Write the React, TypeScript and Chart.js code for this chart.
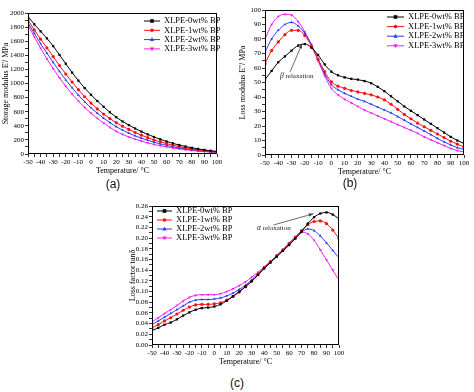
import React, { useEffect, useRef } from 'react';
import { Chart, registerables } from 'chart.js';

Chart.register(...registerables);

// ---------- data ----------
const temps = [-50, -45, -40, -35, -30, -25, -20, -15, -10, -5, 0, 5, 10, 15, 20, 25, 30, 35, 40, 45, 50, 55, 60, 65, 70, 75, 80, 85, 90, 95, 100];

const seriesLabels = ['XLPE-0wt% BP', 'XLPE-1wt% BP', 'XLPE-2wt% BP', 'XLPE-3wt% BP'];

// (a) storage modulus E' / MPa
const storage0 = [1950, 1840, 1740, 1640, 1530, 1405, 1280, 1155, 1040, 935, 840, 752, 670, 592, 522, 462, 410, 362, 318, 278, 242, 208, 178, 151, 127, 106, 88, 72, 58, 46, 36];
const storage1 = [1900, 1760, 1630, 1505, 1380, 1255, 1135, 1020, 912, 812, 722, 640, 566, 502, 445, 395, 348, 305, 267, 232, 200, 172, 147, 124, 104, 87, 72, 59, 48, 39, 31];
const storage2 = [1860, 1710, 1565, 1430, 1300, 1170, 1050, 940, 835, 740, 655, 578, 508, 445, 388, 340, 296, 258, 225, 195, 168, 144, 122, 103, 87, 72, 60, 49, 40, 32, 26];
const storage3 = [1830, 1660, 1500, 1350, 1210, 1080, 960, 850, 750, 660, 580, 505, 440, 378, 322, 278, 242, 210, 182, 158, 136, 117, 100, 85, 72, 60, 50, 41, 33, 26, 20];

// (b) loss modulus E'' / MPa
const loss0 = [52, 58, 64, 68, 72, 75.5, 76.5, 74, 69, 62.5, 57.5, 55, 53.5, 52.5, 52, 51, 49.5, 47, 44, 40.5, 37, 33.5, 30.5, 27.5, 24.5, 21.5, 18.5, 15.5, 12.5, 10, 8];
const loss1 = [63, 72, 78, 83, 86, 86, 82.5, 75, 66, 57.5, 50.5, 47.5, 46, 44.5, 43.5, 42.5, 41.5, 40, 38, 35, 31.5, 28, 25, 22, 19.5, 17, 14.5, 12, 9.5, 7.5, 5.5];
const loss2 = [71, 80, 86, 90, 91.5, 89, 84, 76, 66, 56, 48.5, 45, 42.5, 40.5, 38.5, 37, 35, 33, 31, 29, 26.5, 24, 21.5, 19, 16.5, 14, 11.5, 9, 7, 5, 4];
const loss3 = [80, 90, 95.5, 97, 96.5, 92, 85, 76, 65, 54.5, 46, 41.5, 38.5, 36, 33.5, 31, 29, 27, 25, 23, 21, 19, 17, 15, 12.5, 10.5, 8.5, 6.5, 4.5, 3, 2];

// (c) loss factor tan delta
const tand0 = [0.027, 0.032, 0.038, 0.042, 0.048, 0.055, 0.061, 0.066, 0.069, 0.070, 0.072, 0.076, 0.083, 0.091, 0.100, 0.109, 0.119, 0.131, 0.143, 0.154, 0.165, 0.176, 0.187, 0.199, 0.212, 0.227, 0.239, 0.246, 0.248, 0.244, 0.236];
const tand1 = [0.032, 0.038, 0.045, 0.051, 0.058, 0.065, 0.071, 0.075, 0.076, 0.076, 0.077, 0.079, 0.084, 0.091, 0.099, 0.109, 0.120, 0.132, 0.145, 0.156, 0.167, 0.178, 0.190, 0.202, 0.214, 0.225, 0.231, 0.232, 0.227, 0.215, 0.199];
const tand2 = [0.038, 0.045, 0.052, 0.059, 0.066, 0.073, 0.080, 0.084, 0.085, 0.085, 0.086, 0.088, 0.092, 0.097, 0.104, 0.112, 0.122, 0.133, 0.145, 0.156, 0.167, 0.178, 0.190, 0.201, 0.211, 0.217, 0.214, 0.204, 0.191, 0.177, 0.163];
const tand3 = [0.043, 0.051, 0.059, 0.066, 0.074, 0.082, 0.089, 0.093, 0.094, 0.094, 0.094, 0.096, 0.100, 0.105, 0.111, 0.118, 0.127, 0.136, 0.146, 0.156, 0.166, 0.178, 0.190, 0.202, 0.211, 0.208, 0.196, 0.178, 0.159, 0.140, 0.121];

// ---------- styles ----------
const COLORS = ['#000000', '#ff1010', '#2a3cff', '#f020f0'];
const STYLES = ['rect', 'circle', 'triangle', 'triangleDown'];
const SERIF = "'Liberation Serif', 'Times New Roman', serif";

function drawMarker(ctx: CanvasRenderingContext2D, style: string, x: number, y: number, r: number, color: string) {
  ctx.fillStyle = color;
  ctx.beginPath();
  if (style === 'rect') ctx.rect(x - r, y - r, 2 * r, 2 * r);
  else if (style === 'circle') ctx.arc(x, y, r, 0, Math.PI * 2);
  else if (style === 'triangle') {
    ctx.moveTo(x, y - r * 1.3);
    ctx.lineTo(x + r * 1.2, y + r * 0.8);
    ctx.lineTo(x - r * 1.2, y + r * 0.8);
    ctx.closePath();
  } else {
    ctx.moveTo(x, y + r * 1.3);
    ctx.lineTo(x + r * 1.2, y - r * 0.8);
    ctx.lineTo(x - r * 1.2, y - r * 0.8);
    ctx.closePath();
  }
  ctx.fill();
}

const framePlugin = {
  id: 'frame',
  afterDraw(chart: any) {
    const { ctx, chartArea: a } = chart;
    ctx.save();
    ctx.strokeStyle = '#000';
    ctx.lineWidth = 1;
    ctx.strokeRect(Math.round(a.left) + 0.5, Math.round(a.top) + 0.5, Math.round(a.right - a.left) - 1, Math.round(a.bottom - a.top) - 1);
    ctx.restore();
  },
};

function legendPlugin(x0: number, y0: number, dy: number, len: number) {
  return {
    id: 'customLegend',
    afterDraw(chart: any) {
      const ctx = chart.ctx as CanvasRenderingContext2D;
      ctx.save();
      ctx.font = `8.5px ${SERIF}`;
      ctx.textBaseline = 'middle';
      chart.data.datasets.forEach((ds: any, i: number) => {
        const y = y0 + i * dy;
        ctx.strokeStyle = COLORS[i];
        ctx.lineWidth = 1;
        ctx.beginPath();
        ctx.moveTo(x0, y);
        ctx.lineTo(x0 + len, y);
        ctx.stroke();
        drawMarker(ctx, STYLES[i], x0 + len / 2, y, 1.8, COLORS[i]);
        ctx.fillStyle = '#000';
        ctx.fillText(ds.label, x0 + len + 4, y);
      });
      ctx.restore();
    },
  };
}

function annotationPlugin(greek: string, textAt: [number, number], from: [number, number], to: [number, number]) {
  return {
    id: 'relaxNote',
    afterDraw(chart: any) {
      const ctx = chart.ctx as CanvasRenderingContext2D;
      const xs = chart.scales.x;
      const ys = chart.scales.y;
      const tx = xs.getPixelForValue(textAt[0]);
      const ty = ys.getPixelForValue(textAt[1]);
      ctx.save();
      ctx.textBaseline = 'middle';
      ctx.fillStyle = '#222';
      ctx.font = `italic 7.5px ${SERIF}`;
      ctx.fillText(greek, tx, ty);
      const w = ctx.measureText(greek).width;
      ctx.font = `7px ${SERIF}`;
      ctx.fillText(' relaxation', tx + w, ty);
      const x1 = xs.getPixelForValue(from[0]);
      const y1 = ys.getPixelForValue(from[1]);
      const x2 = xs.getPixelForValue(to[0]);
      const y2 = ys.getPixelForValue(to[1]);
      ctx.strokeStyle = '#444';
      ctx.lineWidth = 0.8;
      ctx.beginPath();
      ctx.moveTo(x1, y1);
      ctx.lineTo(x2, y2);
      ctx.stroke();
      const ang = Math.atan2(y2 - y1, x2 - x1);
      const h = 5;
      ctx.fillStyle = '#444';
      ctx.beginPath();
      ctx.moveTo(x2, y2);
      ctx.lineTo(x2 - h * Math.cos(ang - 0.35), y2 - h * Math.sin(ang - 0.35));
      ctx.lineTo(x2 - h * Math.cos(ang + 0.35), y2 - h * Math.sin(ang + 0.35));
      ctx.closePath();
      ctx.fill();
      ctx.restore();
    },
  };
}

interface PanelCfg {
  series: number[][];
  yMax: number;
  yStep: number;
  yLabel: (v: number) => string;
  yTitle: string;
  yWidth: number;
  padding: { left: number; top: number; right: number; bottom: number };
  legend: [number, number, number, number];
  note?: any;
}

function buildChart(canvas: HTMLCanvasElement, cfg: PanelCfg) {
  const datasets = cfg.series.map((arr, i) => ({
    label: seriesLabels[i],
    data: temps.map((t, k) => ({ x: t, y: arr[k] })),
    borderColor: COLORS[i],
    backgroundColor: COLORS[i],
    borderWidth: 1,
    pointStyle: STYLES[i] === 'triangleDown' ? 'triangle' : STYLES[i],
    pointRotation: STYLES[i] === 'triangleDown' ? 180 : 0,
    pointRadius: 1.6,
    pointBorderWidth: 0,
    cubicInterpolationMode: 'monotone' as const,
    fill: false,
  }));
  const plugins: any[] = [framePlugin, legendPlugin(...cfg.legend)];
  if (cfg.note) plugins.push(cfg.note);
  return new Chart(canvas, {
    type: 'line',
    data: { datasets },
    options: {
      responsive: false,
      maintainAspectRatio: false,
      animation: false,
      devicePixelRatio: 1,
      layout: { padding: cfg.padding },
      plugins: { legend: { display: false }, tooltip: { enabled: false } },
      scales: {
        x: {
          type: 'linear',
          min: -50,
          max: 100,
          ticks: {
            stepSize: 5,
            autoSkip: false,
            maxRotation: 0,
            padding: 1,
            color: '#000',
            font: { family: SERIF, size: 7 },
            callback: (v: any) => (Math.round(v) % 10 === 0 ? String(v) : ''),
          },
          grid: { display: true, drawOnChartArea: false, drawTicks: true, tickLength: 3, color: '#000', lineWidth: 0.8 },
          border: { display: false },
          title: { display: true, text: 'Temperature/ °C', color: '#000', font: { family: SERIF, size: 8 }, padding: 0 },
          afterFit: (s: any) => {
            s.height = 22;
          },
        },
        y: {
          type: 'linear',
          min: 0,
          max: cfg.yMax,
          ticks: {
            stepSize: cfg.yStep,
            autoSkip: false,
            padding: 1,
            color: '#000',
            font: { family: SERIF, size: 7 },
            callback: (v: any) => cfg.yLabel(Number(v)),
          },
          grid: { display: true, drawOnChartArea: false, drawTicks: true, tickLength: 3, color: '#000', lineWidth: 0.8 },
          border: { display: false },
          title: { display: true, text: cfg.yTitle, color: '#000', font: { family: SERIF, size: 8 }, padding: 1 },
          afterFit: (s: any) => {
            s.width = cfg.yWidth;
          },
        },
      },
    },
    plugins,
  } as any);
}

const panelLabel = (x: number, y: number): React.CSSProperties => ({
  position: 'absolute',
  left: x,
  top: y,
  transform: 'translate(-50%, -50%)',
  fontFamily: "'Liberation Sans', Arial, sans-serif",
  fontSize: 12,
  color: '#111',
  whiteSpace: 'nowrap',
});

export default function App() {
  const refA = useRef<HTMLCanvasElement>(null);
  const refB = useRef<HTMLCanvasElement>(null);
  const refC = useRef<HTMLCanvasElement>(null);

  useEffect(() => {
    const a = buildChart(refA.current!, {
      series: [storage0, storage1, storage2, storage3],
      yMax: 2000,
      yStep: 100,
      yLabel: (v) => (Math.round(v) % 200 === 0 ? String(Math.round(v)) : ''),
      yTitle: "Storage modulus E'/ MPa",
      yWidth: 28,
      padding: { left: 0, top: 13, right: 20, bottom: 4 },
      legend: [144, 21, 9.3, 16],
    });
    const b = buildChart(refB.current!, {
      series: [loss0, loss1, loss2, loss3],
      yMax: 100,
      yStep: 5,
      yLabel: (v) => (Math.round(v) % 10 === 0 ? String(Math.round(v)) : ''),
      yTitle: "Loss modulus E''/ MPa",
      yWidth: 28,
      padding: { left: 0, top: 10, right: 10, bottom: 3 },
      legend: [150, 17, 9.6, 17],
      note: annotationPlugin('β', [-38.7, 54.5], [-31, 57.5], [-22, 76.8]),
    });
    const c = buildChart(refC.current!, {
      series: [tand0, tand1, tand2, tand3],
      yMax: 0.26,
      yStep: 0.01,
      yLabel: (v) => (Math.round(v * 100) % 2 === 0 ? v.toFixed(2) : ''),
      yTitle: 'Loss factor tanδ',
      yWidth: 25,
      padding: { left: 7, top: 21, right: 21, bottom: 3 },
      legend: [37, 26, 9, 15],
      note: annotationPlugin('α', [34.2, 0.219], [47.5, 0.2245], [79.5, 0.2455]),
    });
    return () => {
      a.destroy();
      b.destroy();
      c.destroy();
    };
  }, []);

  return (
    <div style={{ position: 'fixed', left: 0, top: 0, width: 474, height: 392, background: '#fff', overflow: 'hidden' }}>
      <canvas ref={refA} width={237} height={180} style={{ position: 'absolute', left: 0, top: 0 }} />
      <canvas ref={refB} width={237} height={180} style={{ position: 'absolute', left: 237, top: 0 }} />
      <canvas ref={refC} width={240} height={185} style={{ position: 'absolute', left: 120, top: 185 }} />
      <div style={panelLabel(113, 184)}>(a)</div>
      <div style={panelLabel(350, 183)}>(b)</div>
      <div style={panelLabel(237, 383)}>(c)</div>
    </div>
  );
}
